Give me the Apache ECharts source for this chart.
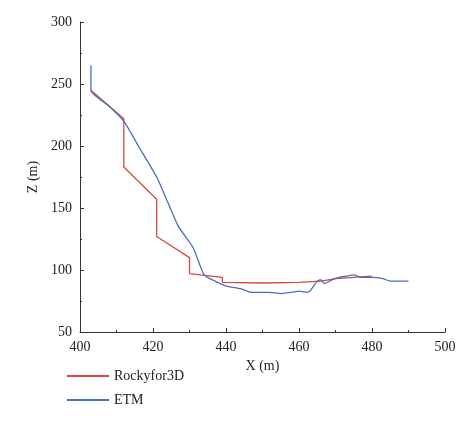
<!DOCTYPE html>
<html><head><meta charset="utf-8">
<script src="https://cdn.jsdelivr.net/npm/echarts@6/dist/echarts.min.js"></script>
</head><body style="margin:0">
<div id="main" style="width:474px;height:445px"></div>
<script>
// Rockyfor3D profile (x, z)
var rockyfor = [[403,245],[412,222],[412,183],[421,157],[421,127],[430,110],[430,97],[439,94],[439,90],
  [450,89.5],[460,90],[466,91],[470,93],[475,94],[480,95]];
// ETM profile (x, z)
var etm = [[403,265],[403,245],[408,232],[412,220],[416,200],[421,175],[424,155],[427,135],[431,118],[434,96],
  [437,91],[440,87],[444,85],[447,82],[452,82],[455,81],[458,82],[460,83],[462,82],[463,83],[465,91],
  [466,92],[467,89],[469,92],[471,94],[473,95],[475,96],[477,94],[480,94],[483,93],[485,91],[488,91],[490,91]];

var font = 'Liberation Serif';
var chart = echarts.init(document.getElementById('main'));
var axisCommon = {
  axisLine: {show: true, lineStyle: {color: '#333'}},
  axisTick: {show: true, inside: true, length: 4, lineStyle: {color: '#333'}},
  minorTick: {show: true, splitNumber: 2, length: 2, lineStyle: {color: '#333'}},
  axisLabel: {color: '#222', fontSize: 14, fontFamily: font},
  splitLine: {show: false},
  nameTextStyle: {color: '#222', fontSize: 14, fontFamily: font}
};
chart.setOption({
  animation: false,
  grid: {left: 80, right: 29, top: 22, bottom: 113},
  xAxis: Object.assign({type: 'value', min: 400, max: 500, interval: 20, name: 'X (m)',
    nameLocation: 'middle', nameGap: 24}, axisCommon),
  yAxis: Object.assign({type: 'value', min: 50, max: 300, interval: 50, name: 'Z (m)',
    nameLocation: 'middle', nameGap: 40}, axisCommon),
  legend: {
    orient: 'vertical', left: 62, top: 364, itemGap: 10, itemWidth: 42, itemHeight: 2,
    icon: 'rect',
    textStyle: {color: '#222', fontSize: 14, fontFamily: font},
    data: ['Rockyfor3D', 'ETM']
  },
  series: [
    {name: 'Rockyfor3D', type: 'line', data: rockyfor, showSymbol: false, color: '#d9483b',
      lineStyle: {width: 1.3}},
    {name: 'ETM', type: 'line', data: etm, showSymbol: false, color: '#4a6cc0', smooth: 0.2,
      lineStyle: {width: 1.3}}
  ]
});
</script>
</body></html>
